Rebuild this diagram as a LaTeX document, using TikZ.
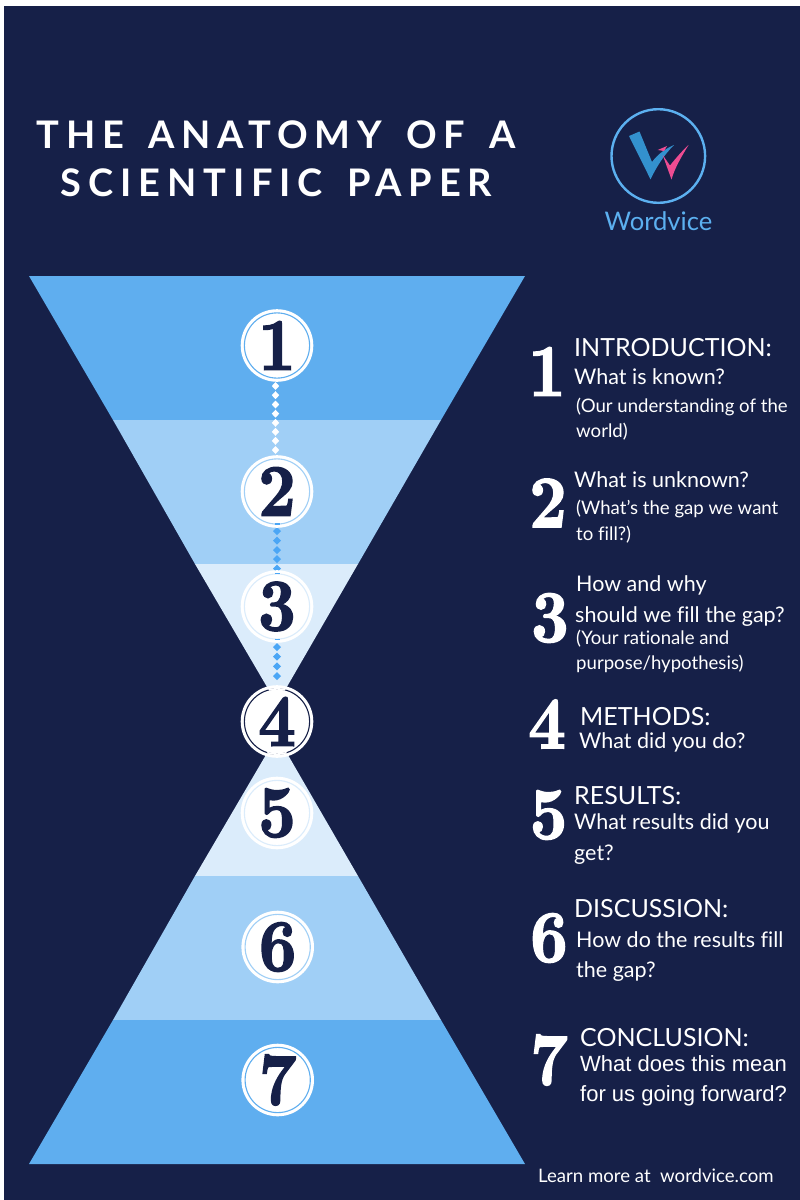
\documentclass[tikz,border=0pt]{standalone}
\usepackage{fontspec}
\setmainfont[Ligatures=NoCommon]{Lato}
\newfontfamily\arialfont{Liberation Sans}
\newfontfamily\numfont[FakeBold=2,FakeStretch=0.88]{lmroman10-bold.otf}
\newfontfamily\titlefont[LetterSpace=18.1,WordSpace=1.49]{Lato}
\definecolor{navy}{HTML}{162048}
\definecolor{bandA}{HTML}{5FAEEF}
\definecolor{bandB}{HTML}{A0CFF6}
\definecolor{bandC}{HTML}{DBECFB}
\definecolor{logoblue}{HTML}{5CB0F0}
\definecolor{wblue}{HTML}{3391CE}
\definecolor{wpink}{HTML}{EE4C92}
\definecolor{dotblue}{HTML}{4BA6F5}
\tikzset{
  x=1pt,y=-1pt,
  headtext/.style={text=white,anchor=base west,inner sep=0pt,font=\fontsize{25}{27}\selectfont},
  rowtext/.style={text=white,anchor=base west,inner sep=0pt,font=\fontsize{21.5}{24}\selectfont},
  smalltext/.style={text=white,anchor=base west,inner sep=0pt,font=\fontsize{18.6}{20}\selectfont},
  arialtext/.style={text=white,anchor=base west,inner sep=0pt,font=\arialfont\fontsize{22}{24}\selectfont},
  bignum/.style={text=white,inner sep=0pt,font=\numfont\fontsize{74}{74}\selectfont},
  disc/.style={circle,fill=white,minimum size=72.6pt,inner sep=0pt,text=navy,font=\numfont\fontsize{74}{74}\selectfont},
  ringline/.style={line width=1.1pt},
  titletext/.style={text=white,inner sep=0pt,font=\titlefont\bfseries\fontsize{38}{40}\selectfont},
  whitedot/.style={fill=white},
  bluedot/.style={fill=dotblue}
}
\begin{document}
\begin{tikzpicture}
\useasboundingbox (0,0) rectangle (800,1200);
\fill[white] (0,0) rectangle (800,1200);
\fill[navy] (4,6) rectangle (800,1200);
% funnel
\fill[bandA] (29,276) -- (525,276) -- (441,420) -- (113,420) -- cycle;
\fill[bandB] (113,420) -- (441,420) -- (358,564) -- (195,564) -- cycle;
\fill[bandC] (195,564) -- (358,564) -- (277,704) -- cycle;
\fill[bandC] (277,736) -- (358,876) -- (195,876) -- cycle;
\fill[bandB] (195,876) -- (358,876) -- (441,1020) -- (113,1020) -- cycle;
\fill[bandA] (113,1020) -- (441,1020) -- (525,1164) -- (29,1164) -- cycle;
% dotted connectors
\foreach \y in {386,395.2,404.5,413.7,422.8,431.8,440.8,450} \fill[whitedot] (275.5,\y-4) -- (279.2,\y) -- (275.5,\y+4) -- (271.8,\y) -- cycle;
\foreach \y in {531,540.5,550,559,568.5,647,656.7,666.3,676} \fill[bluedot] (277,\y-4) -- (281,\y) -- (277,\y+4) -- (273,\y) -- cycle;
% discs
\node[disc] (n1) at (277,345.5) {1};
\node[disc] (n2) at (277,491.5) {2};
\node[disc] (n3) at (277,606.5) {3};
\node[disc] (n4) at (277,721.5) {4};
\node[disc] (n5) at (277,813) {5};
\node[disc] (n6) at (277.7,947) {6};
\node[disc] (n7) at (277.7,1080) {7};
\draw[bandA,ringline] (n1.center) circle (32.6);
\draw[bandB,ringline] (n2.center) circle (32.6);
\draw[bandC,ringline] (n3.center) circle (32.6);
\draw[navy,ringline] (n4.center) circle (32.6);
\begin{scope}
  \clip (195,564) -- (358,564) -- (277,704) -- (277,736) -- (358,876) -- (195,876) -- (277,736) -- (277,704) -- cycle;
  \draw[white,line width=1.6pt] (n4.center) circle (32.6);
\end{scope}
\draw[bandC,ringline] (n5.center) circle (32.6);
\draw[bandB,ringline] (n6.center) circle (32.6);
\draw[bandA,ringline] (n7.center) circle (32.6);
\foreach \y in {524,573.8,639.2} \fill[bluedot] (274.5,\y-0.6) rectangle (279.5,\y+0.6);
% title
\node[titletext] (t1) at (276,134.3) {THE ANATOMY OF A};
\node[titletext] (t2) at (276.5,183) {SCIENTIFIC PAPER};
% logo
\draw[logoblue,line width=2.4pt] (658.3,156) circle (46.8);
\fill[wblue] (629,136) -- (639.5,131.5) -- (652,162) .. controls (658,154) and (665,149) .. (674,145) .. controls (664,155) and (657,166) .. (650.5,179.3) -- cycle;
\fill[wpink] (657.7,150) -- (667,146) -- (664,151) -- cycle;
\fill[wpink] (662.7,155) -- (670,165.5) .. controls (676,158) and (682,151) .. (688.5,145) .. controls (682,156) and (675,167) .. (671.5,179.5) -- cycle;
\node[text=logoblue,inner sep=0pt,anchor=base,font=\fontsize{25.6}{28}\selectfont] (logo) at (658.5,230.5) {Wordvice};
% rows
\node[bignum] (b1) at (547,371.5) {1};
\node[headtext] (r1a) at (574,356.7) {INTRODUCTION:};
\node[rowtext] (r1b) at (574,384) {What is known?};
\node[smalltext] (r1c) at (576,412) {(Our understanding of the};
\node[smalltext] (r1d) at (576,437.7) {world)};
\node[bignum] (b2) at (548,503) {2};
\node[rowtext] (r2a) at (574,487) {What is unknown?};
\node[smalltext] (r2b) at (576,514.3) {(What's the gap we want};
\node[smalltext] (r2c) at (576,540) {to fill?)};
\node[bignum] (b3) at (550,618) {3};
\node[rowtext] (r3a) at (576,591.7) {How and why};
\node[rowtext] (r3b) at (575,622.3) {should we fill the gap?};
\node[smalltext] (r3c) at (576,644.3) {(Your rationale and};
\node[smalltext] (r3d) at (576,669) {purpose/hypothesis)};
\node[bignum] (b4) at (547,724) {4};
\node[headtext] (r4a) at (580,725.7) {METHODS:};
\node[rowtext] (r4b) at (579,748.3) {What did you do?};
\node[bignum] (b5) at (548.5,815) {5};
\node[headtext] (r5a) at (574,804.3) {RESULTS:};
\node[rowtext] (r5b) at (574,829) {What results did you};
\node[rowtext] (r5c) at (574,860) {get?};
\node[bignum] (b6) at (549,938) {6};
\node[headtext] (r6a) at (574,917.3) {DISCUSSION:};
\node[rowtext] (r6b) at (576,947.3) {How do the results fill};
\node[rowtext] (r6c) at (576,977.3) {the gap?};
\node[bignum] (b7) at (549,1060) {7};
\node[headtext] (r7a) at (580,1046.7) {CONCLUSION:};
\node[arialtext] (r7b) at (580,1071.7) {What does this mean};
\node[arialtext] (r7c) at (580,1101.7) {for us going forward?};
\node[smalltext] (learn) at (538,1182.3) {Learn more at\ \ wordvice.com};
\end{tikzpicture}
\end{document}
